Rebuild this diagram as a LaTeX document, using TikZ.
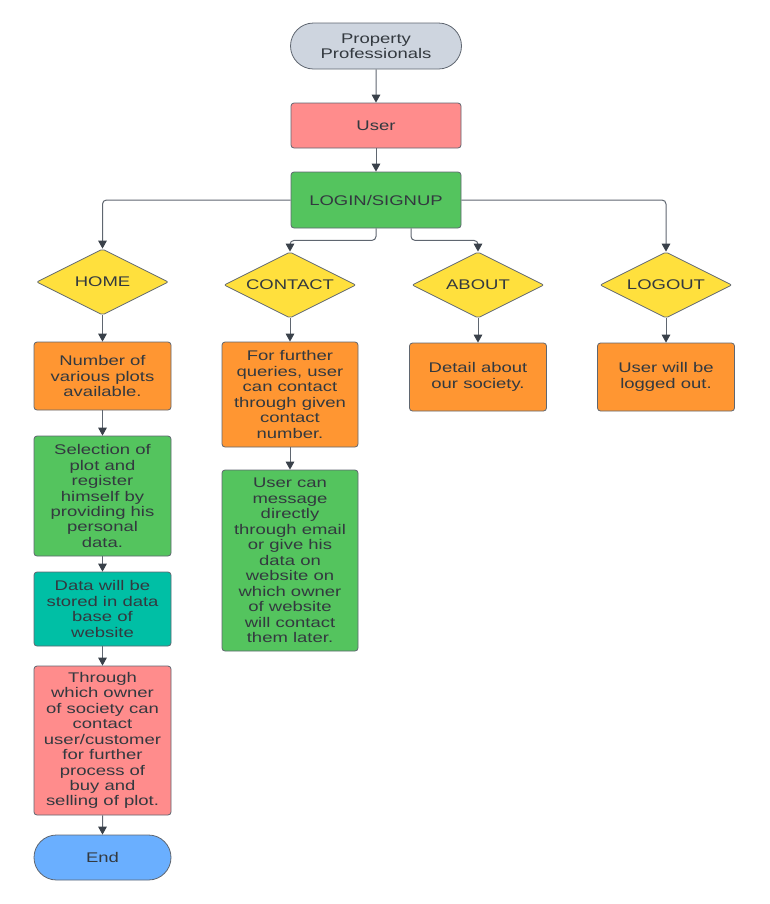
\documentclass[tikz,border=0pt]{standalone}
\usepackage{fontspec}
\setmainfont[FakeStretch=1.32]{Liberation Sans}
\usepackage{xcolor}
\usetikzlibrary{shapes.geometric,shapes.misc,arrows.meta}

\definecolor{lineGray}{HTML}{5F6670}
\definecolor{tipGray}{HTML}{3A414A}
\definecolor{txtGray}{HTML}{33393F}
\definecolor{termGray}{HTML}{CED5DF}
\definecolor{pinkFill}{HTML}{FF8C8C}
\definecolor{greenFill}{HTML}{54C45E}
\definecolor{yellowFill}{HTML}{FFE03D}
\definecolor{orangeFill}{HTML}{FF9632}
\definecolor{tealFill}{HTML}{00BFA5}
\definecolor{blueFill}{HTML}{6AAFFF}

\tikzset{
  every node/.style={text=txtGray, font=\fontsize{10.5}{11.6}\selectfont, align=center, inner sep=0pt},
  box/.style={rectangle, draw=lineGray, line width=0.6pt, rounded corners=2.25pt},
  term/.style={rounded rectangle, draw=lineGray, line width=0.6pt},
  choice/.style={diamond, aspect=2, draw=lineGray, line width=0.6pt, rounded corners=1.5pt,
    fill=yellowFill, minimum width=99pt, minimum height=49.5pt},
  link/.style={draw=lineGray, line width=0.75pt, rounded corners=3pt,
    -{Triangle[length=6pt,width=6.5pt,color=tipGray]}}
}

\begin{document}
\begin{tikzpicture}[x=0.75pt,y=0.75pt,yscale=-1,xscale=1]
\path[use as bounding box] (0,0) rectangle (769,904);

%Terminal: start
\node[term, fill=termGray, minimum width=128.25pt, minimum height=34.5pt] (start) at (376,46) {Property\\Professionals};
%Process boxes: top column
\node[box, fill=pinkFill, minimum width=127.5pt, minimum height=33.75pt] (user) at (376,125.5) {User};
\node[box, fill=greenFill, minimum width=127.5pt, minimum height=42pt] (login) at (376,200) {LOGIN/SIGNUP};

%Decisions
\node[choice] (home) at (102.5,282) {HOME};
\node[choice] (contact) at (290,285) {CONTACT};
\node[choice] (about) at (478,285) {ABOUT};
\node[choice] (logout) at (666,285) {LOGOUT};

%HOME column
\node[box, fill=orangeFill, minimum width=102.75pt, minimum height=51pt] (plots) at (102.5,376) {Number of\\various plots\\available.};
\node[box, fill=greenFill, minimum width=102.75pt, minimum height=90pt] (select) at (102.5,496) {Selection of\\plot and\\register\\himself by\\providing his\\personal\\data.};
\node[box, fill=tealFill, minimum width=102.75pt, minimum height=55.5pt] (store) at (102.5,609) {Data will be\\stored in data\\base of\\website};
\node[box, fill=pinkFill, minimum width=102.75pt, minimum height=111.75pt] (owner) at (102.5,740.5) {Through\\which owner\\of society can\\contact\\user/customer\\for further\\process of\\buy and\\selling of plot.};
\node[term, fill=blueFill, minimum width=102.75pt, minimum height=33.75pt] (end) at (102.5,857.5) {End};

%CONTACT column
\node[box, fill=orangeFill, minimum width=102pt, minimum height=78.75pt] (queries) at (290,394.5) {For further\\queries, user\\can contact\\through given\\contact\\number.};
\node[box, fill=greenFill, minimum width=102pt, minimum height=135.75pt] (message) at (290,560.5) {User can\\message\\directly\\through email\\or give his\\data on\\website on\\which owner\\of website\\will contact\\them later.};

%ABOUT and LOGOUT columns
\node[box, fill=orangeFill, minimum width=102.75pt, minimum height=51pt] (detail) at (478,377) {Detail about\\our society.};
\node[box, fill=orangeFill, minimum width=102.75pt, minimum height=51pt] (loggedout) at (666,377) {User will be\\logged out.};

%Connectors
\draw[link] (start) -- (user);
\draw[link] (user) -- (login);
\draw[link] (login.west) -| (home.north);
\draw[link] (login.south) -- ++(0,12) -| (contact.north);
\draw[link] ([xshift=26.25pt]login.south) -- ++(0,12) -| (about.north);
\draw[link] (login.east) -| (logout.north);
\draw[link] (home) -- (plots);
\draw[link] (plots) -- (select);
\draw[link] (select) -- (store);
\draw[link] (store) -- (owner);
\draw[link] (owner) -- (end);
\draw[link] (contact) -- (queries);
\draw[link] (queries) -- (message);
\draw[link] (about) -- (detail);
\draw[link] (logout) -- (loggedout);

\end{tikzpicture}
\end{document}
